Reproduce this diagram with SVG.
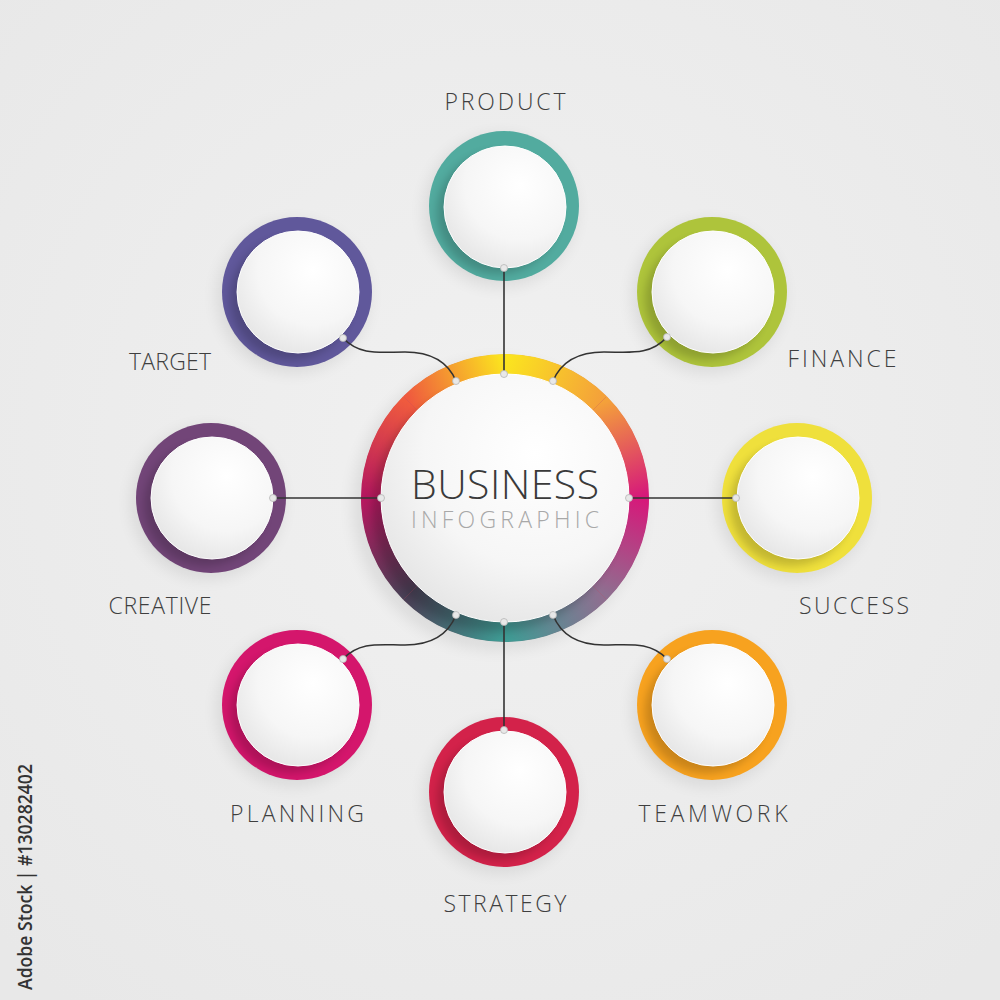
<svg xmlns="http://www.w3.org/2000/svg" width="1000" height="1000" viewBox="0 0 1000 1000">
<defs>
  <radialGradient id="bg" cx="50%" cy="45%" r="70%">
    <stop offset="0" stop-color="#f1f1f1"/>
    <stop offset="1" stop-color="#e8e8e8"/>
  </radialGradient>
  <radialGradient id="white" cx="62%" cy="32%" r="75%">
    <stop offset="0" stop-color="#ffffff"/>
    <stop offset="0.6" stop-color="#f6f6f6"/>
    <stop offset="1" stop-color="#e4e4e4"/>
  </radialGradient>
  <filter id="blur" x="-30%" y="-30%" width="160%" height="160%">
    <feGaussianBlur stdDeviation="4"/>
  </filter>
  <filter id="soft" x="-30%" y="-30%" width="160%" height="160%">
    <feGaussianBlur stdDeviation="8"/>
  </filter>
  <linearGradient id="g0" gradientUnits="userSpaceOnUse" x1="505" y1="365" x2="599" y2="404"><stop offset="0" stop-color="#fbe41f"/><stop offset="1" stop-color="#f4a13a"/></linearGradient>
  <linearGradient id="g1" gradientUnits="userSpaceOnUse" x1="599" y1="404" x2="638" y2="498"><stop offset="0" stop-color="#f4a13a"/><stop offset="1" stop-color="#d6197a"/></linearGradient>
  <linearGradient id="g2" gradientUnits="userSpaceOnUse" x1="638" y1="498" x2="599" y2="592"><stop offset="0" stop-color="#d6197a"/><stop offset="1" stop-color="#8e6f90"/></linearGradient>
  <linearGradient id="g3" gradientUnits="userSpaceOnUse" x1="599" y1="592" x2="505" y2="631"><stop offset="0" stop-color="#8e6f90"/><stop offset="1" stop-color="#3f9b94"/></linearGradient>
  <linearGradient id="g4" gradientUnits="userSpaceOnUse" x1="505" y1="631" x2="411" y2="592"><stop offset="0" stop-color="#3f9b94"/><stop offset="1" stop-color="#4b4157"/></linearGradient>
  <linearGradient id="g5" gradientUnits="userSpaceOnUse" x1="411" y1="592" x2="372" y2="498"><stop offset="0" stop-color="#4b4157"/><stop offset="1" stop-color="#b5185f"/></linearGradient>
  <linearGradient id="g6" gradientUnits="userSpaceOnUse" x1="372" y1="498" x2="411" y2="404"><stop offset="0" stop-color="#b5185f"/><stop offset="1" stop-color="#ef5a3e"/></linearGradient>
  <linearGradient id="g7" gradientUnits="userSpaceOnUse" x1="411" y1="404" x2="505" y2="365"><stop offset="0" stop-color="#ef5a3e"/><stop offset="1" stop-color="#fbe41f"/></linearGradient>
</defs>
<style>
  .lbl { font-family: "Open Sans", "Liberation Sans", sans-serif; font-weight: 300; font-size: 23px; fill: #3f3f3f; text-anchor: middle; }
  .ring { stroke: none; }
  .inner { fill: url(#white); stroke: #ffffff; stroke-width: 1; }
  .shade { fill: #000; opacity: 0.18; filter: url(#blur); }
  .halo { fill: #000; opacity: 0.08; filter: url(#soft); }
  .conn { fill: none; stroke: #333; stroke-width: 1.6; }
  .dot { fill: #e8e8e8; stroke: #b5b5b5; stroke-width: 0.8; }
  .seg { fill: none; stroke-width: 22; }
</style>
<rect width="1000" height="1000" fill="url(#bg)"/>

<g id="node-product">
  <circle class="halo" cx="500" cy="211" r="76"/>
  <circle class="ring" cx="504" cy="206" r="75" fill="#52ab9f"/>
  <circle class="shade" cx="498" cy="213" r="61"/>
  <circle class="inner" cx="505" cy="207" r="61"/>
  <text class="lbl" x="505" y="110" textLength="121" lengthAdjust="spacing">PRODUCT</text>
</g>
<g id="node-finance">
  <circle class="halo" cx="708" cy="297" r="76"/>
  <circle class="ring" cx="712" cy="292" r="75" fill="#aec43b"/>
  <circle class="shade" cx="706" cy="299" r="61"/>
  <circle class="inner" cx="713" cy="292" r="61"/>
  <text class="lbl" x="842" y="367" textLength="109" lengthAdjust="spacing">FINANCE</text>
</g>
<g id="node-success">
  <circle class="halo" cx="793" cy="503" r="76"/>
  <circle class="ring" cx="797" cy="498" r="75" fill="#efe03c"/>
  <circle class="shade" cx="791" cy="505" r="61"/>
  <circle class="inner" cx="798" cy="498" r="61"/>
  <text class="lbl" x="854" y="614" textLength="110" lengthAdjust="spacing">SUCCESS</text>
</g>
<g id="node-teamwork">
  <circle class="halo" cx="708" cy="710" r="76"/>
  <circle class="ring" cx="712" cy="705" r="75" fill="#f7a21f"/>
  <circle class="shade" cx="706" cy="712" r="61"/>
  <circle class="inner" cx="713" cy="705" r="61"/>
  <text class="lbl" x="713" y="822" textLength="149" lengthAdjust="spacing">TEAMWORK</text>
</g>
<g id="node-strategy">
  <circle class="halo" cx="500" cy="797" r="76"/>
  <circle class="ring" cx="504" cy="792" r="75" fill="#d3224a"/>
  <circle class="shade" cx="498" cy="799" r="61"/>
  <circle class="inner" cx="505" cy="792" r="61"/>
  <text class="lbl" x="505" y="912" textLength="123" lengthAdjust="spacing">STRATEGY</text>
</g>
<g id="node-planning">
  <circle class="halo" cx="293" cy="710" r="76"/>
  <circle class="ring" cx="297" cy="705" r="75" fill="#d4166c"/>
  <circle class="shade" cx="291" cy="712" r="61"/>
  <circle class="inner" cx="298" cy="705" r="61"/>
  <text class="lbl" x="297" y="822" textLength="134" lengthAdjust="spacing">PLANNING</text>
</g>
<g id="node-creative">
  <circle class="halo" cx="207" cy="503" r="76"/>
  <circle class="ring" cx="211" cy="498" r="75" fill="#724578"/>
  <circle class="shade" cx="205" cy="505" r="61"/>
  <circle class="inner" cx="212" cy="498" r="61"/>
  <text class="lbl" x="160" y="614" textLength="103" lengthAdjust="spacing">CREATIVE</text>
</g>
<g id="node-target">
  <circle class="halo" cx="293" cy="297" r="76"/>
  <circle class="ring" cx="297" cy="292" r="75" fill="#60589b"/>
  <circle class="shade" cx="291" cy="299" r="61"/>
  <circle class="inner" cx="298" cy="292" r="61"/>
  <text class="lbl" x="170" y="370" textLength="82" lengthAdjust="spacing">TARGET</text>
</g>

<g id="node-center">
  <circle class="halo" cx="498" cy="505" r="145"/>
  <circle cx="505" cy="498" r="133" fill="none" stroke="#c04a60" stroke-width="21"/>
  <path class="seg" stroke="url(#g0)" d="M505,365 A133,133 0 0 1 599,404"/>
  <path class="seg" stroke="url(#g1)" d="M599,404 A133,133 0 0 1 638,498"/>
  <path class="seg" stroke="url(#g2)" d="M638,498 A133,133 0 0 1 599,592"/>
  <path class="seg" stroke="url(#g3)" d="M599,592 A133,133 0 0 1 505,631"/>
  <path class="seg" stroke="url(#g4)" d="M505,631 A133,133 0 0 1 411,592"/>
  <path class="seg" stroke="url(#g5)" d="M411,592 A133,133 0 0 1 372,498"/>
  <path class="seg" stroke="url(#g6)" d="M372,498 A133,133 0 0 1 411,404"/>
  <path class="seg" stroke="url(#g7)" d="M411,404 A133,133 0 0 1 505,365"/>
  <circle class="shade" cx="496" cy="508" r="124"/>
  <circle class="inner" cx="505" cy="498" r="124"/>
  <text x="505" y="499" text-anchor="middle" font-family="'Open Sans', 'Liberation Sans', sans-serif" font-weight="300" font-size="41" fill="#3a3a3a" textLength="188" lengthAdjust="spacing">BUSINESS</text>
  <text x="505" y="528" text-anchor="middle" font-family="'Open Sans', 'Liberation Sans', sans-serif" font-weight="300" font-size="23" fill="#a8a8a8" textLength="188" lengthAdjust="spacing">INFOGRAPHIC</text>
</g>

<g id="connectors">
  <path class="conn" d="M504,268 L504,374"/>
  <path class="conn" d="M504,622 L504,730"/>
  <path class="conn" d="M273,498 L381,498"/>
  <path class="conn" d="M629,498 L736,498"/>
  <path class="conn" d="M343,338 C360,356 380,352 405,352 C432,352 448,362 456,381"/>
  <path class="conn" d="M553,381 C561,362 577,352 604,352 C629,352 650,356 667,337"/>
  <path class="conn" d="M343,659 C360,641 380,645 405,645 C432,645 448,635 456,615"/>
  <path class="conn" d="M553,615 C561,635 577,645 604,645 C629,645 650,641 667,659"/>
  <circle class="dot" cx="504" cy="268" r="3.5"/>
  <circle class="dot" cx="504" cy="374" r="3.5"/>
  <circle class="dot" cx="504" cy="622" r="3.5"/>
  <circle class="dot" cx="504" cy="730" r="3.5"/>
  <circle class="dot" cx="273" cy="498" r="3.5"/>
  <circle class="dot" cx="381" cy="498" r="3.5"/>
  <circle class="dot" cx="629" cy="498" r="3.5"/>
  <circle class="dot" cx="736" cy="498" r="3.5"/>
  <circle class="dot" cx="343" cy="338" r="3.5"/>
  <circle class="dot" cx="456" cy="381" r="3.5"/>
  <circle class="dot" cx="553" cy="381" r="3.5"/>
  <circle class="dot" cx="667" cy="337" r="3.5"/>
  <circle class="dot" cx="343" cy="659" r="3.5"/>
  <circle class="dot" cx="456" cy="615" r="3.5"/>
  <circle class="dot" cx="553" cy="615" r="3.5"/>
  <circle class="dot" cx="667" cy="659" r="3.5"/>
</g>

<text transform="translate(32,877) rotate(-90)" text-anchor="middle" font-family="'Open Sans', 'Liberation Sans', sans-serif" font-weight="600" font-size="19" fill="#333" textLength="226" lengthAdjust="spacingAndGlyphs">Adobe Stock | #130282402</text>
</svg>
